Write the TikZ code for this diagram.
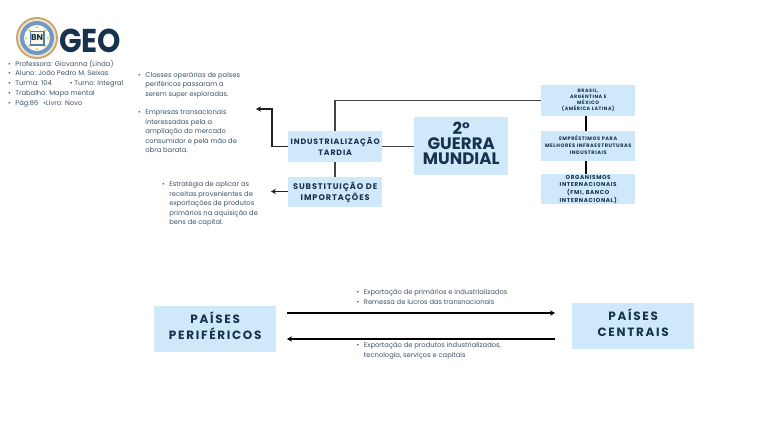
\documentclass[tikz,border=0pt]{standalone}
\usepackage{fontspec}
\setmainfont{Poppins}
\newfontfamily\body{Poppins}
\newfontfamily\headA[LetterSpace=11]{Poppins Bold}
\newfontfamily\headC[LetterSpace=14]{Poppins Bold}
\newfontfamily\headB{Poppins Bold}
\newfontfamily\geofont[FakeStretch=0.9]{Poppins Bold}
\definecolor{boxblue}{HTML}{CFE9FA}
\definecolor{ink}{HTML}{17324D}
\definecolor{bodyink}{HTML}{3E5468}
\definecolor{conn}{HTML}{222222}
\definecolor{logotan}{HTML}{C9A66B}
\definecolor{logoblue}{HTML}{4F7FB5}
\definecolor{logoyellow}{HTML}{F0D85A}
\newcommand{\bl}{\makebox[7.2pt][l]{•}}
\newcommand{\nb}{\hspace*{7.2pt}}
\usetikzlibrary{arrows.meta}
\tikzset{
  x=1pt,y=-1pt,
  cbox/.style={fill=boxblue,inner sep=0pt,align=center,text=ink,anchor=north west},
  hd/.style 2 args={font=\headA\fontsize{#1}{#2}\selectfont},
  hdc/.style 2 args={font=\headC\fontsize{#1}{#2}\selectfont},
  txt/.style={anchor=north west,inner sep=0pt,align=left,text=bodyink,font=\body\fontsize{6.75}{9.5}\selectfont},
  thick line/.style={draw=conn,line width=1.5pt},
  tip/.style={-{Stealth[length=5pt,width=5.5pt]}},
}
\begin{document}
\begin{tikzpicture}
\useasboundingbox[fill=white] (0,0) rectangle (768,431);
% logo
\fill[logotan] (37,38) circle (21);
\fill[white!70!logotan] (37,38) circle (19);
\fill[logoblue!80!white] (37,38) circle (17);
\fill[white] (37,38) circle (13);
\foreach \a in {0,45,...,315} \fill[logoyellow] (37,38) ++(\a:11) circle (1.6);
\fill[logoblue] (29.5,30.5) rectangle (44.5,45.5);
\fill[white!80!logoyellow] (31,32) rectangle (43,44);
\node[inner sep=0pt,text=ink,font=\headB\fontsize{8.5}{8.5}\selectfont] (logo) at (37,38) {BN};
\node[anchor=south west,inner sep=0pt,text height=24pt,text depth=0pt,text=ink,font=\geofont\fontsize{33}{33}\selectfont] (geo) at (59,53) {GEO};
% boxes
\node[cbox,minimum width=94pt,minimum height=31pt,hd={7.8}{10.5}] (ind) at (288,131) {INDUSTRIALIZAÇÃO\\TARDIA};
\node[cbox,minimum width=94pt,minimum height=30pt,hd={8.2}{11}] (sub) at (288,177) {SUBSTITUIÇÃO DE\\IMPORTAÇÕES};
\node[cbox,minimum width=94pt,minimum height=58pt,font=\fontspec{Poppins Bold}\fontsize{16.6}{15}\selectfont] (guerra) at (414,117) {2°\\GUERRA\\MUNDIAL\\[-10pt]~};
\node[cbox,minimum width=94pt,minimum height=31pt,hd={4.8}{6.2}] (bra) at (541,85) {BRASIL,\\ARGENTINA E\\MÉXICO\\(AMÉRICA LATINA)\\[-4pt]~};
\node[cbox,minimum width=94pt,minimum height=30pt,hd={5}{6.9}] (emp) at (541,131) {EMPRÉSTIMOS PARA\\MELHORES INFRAESTRUTURAS\\INDUSTRIAIS\\[-4pt]~};
\node[cbox,minimum width=94pt,minimum height=30pt,hd={5.7}{7.7}] (org) at (541,174) {ORGANISMOS\\INTERNACIONAIS\\(FMI, BANCO\\INTERNACIONAL)};
\node[cbox,minimum width=122pt,minimum height=46pt,hdc={12}{16}] (per) at (154,306) {PAÍSES\\PERIFÉRICOS\\[-8pt]~};
\node[cbox,minimum width=122pt,minimum height=46pt,hdc={12}{16}] (cen) at (572,303) {PAÍSES\\CENTRAIS\\[-8pt]~};
% texts
\node[txt,font=\body\fontsize{6.75}{9.8}\selectfont] (t1) at (8,59.5) {\bl Professora: Giovanna (Linda)\\\bl Aluno: João Pedro M. Seixas\\\bl Turma: 104\hspace{18pt}• Turno: Integral\\\bl Trabalho: Mapa mental\\\bl Pág:86\hspace{3pt} •Livro: Novo};
\node[txt] (t2) at (138,72) {\bl Classes operárias de países\\\nb periféricos passaram a\\\nb serem super exploradas.\\[9pt]\bl Empresas transacionais\\\nb interessadas pela a\\\nb ampliação do mercado\\\nb consumidor e pela mão de\\\nb obra barata.};
\node[txt] (t3) at (162,181.5) {\bl Estratégia de aplicar as\\\nb receitas provenientes de\\\nb exportações de produtos\\\nb primários na aquisição de\\\nb bens de capital.};
\node[txt] (t4) at (356.5,289.5) {\bl Exportação de primários e industrializados\\\bl Remessa de lucros das transnacionais};
\node[txt] (t5) at (356.5,342.5) {\bl Exportação de produtos industrializados,\\\nb tecnologia, serviços e capitais};
% connectors
\coordinate (a1) at (256,109);
\coordinate (a2) at (271,191.5);
\coordinate (b1) at (287,313);
\coordinate (b2) at (555,313);
\coordinate (c1) at (555,339);
\coordinate (c2) at (287,339);
\draw[thick line,draw=conn!85!white] (ind.north) |- (bra.west);
\draw[thick line,tip] (ind.west) -| (272,109) -- (a1);
\draw[thick line,draw=conn!85!white] (ind.east) -- (guerra.west |- ind.east);
\draw[thick line,draw=conn!85!white] (ind.south) -- (sub.north);
\draw[thick line,tip] (sub.west |- a2) -- (a2);
\draw[line width=1.8pt,black] ([xshift=-2.5pt]bra.south) -- ([xshift=-2.5pt]emp.north);
\draw[line width=1.8pt,black] ([xshift=-2.5pt]emp.south) -- ([xshift=-2.5pt]org.north);
\draw[thick line,tip,black] (b1) -- (b2);
\draw[thick line,tip,black] (c1) -- (c2);
\end{tikzpicture}
\end{document}
